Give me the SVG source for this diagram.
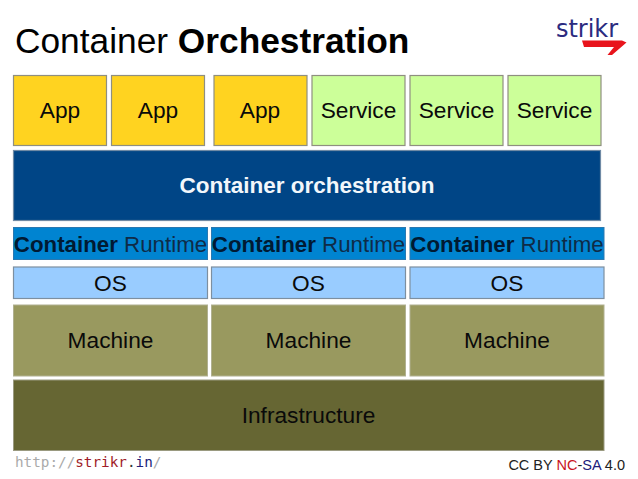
<svg xmlns="http://www.w3.org/2000/svg" width="638" height="479" viewBox="0 0 638 479">
<style>
text{font-family:"Liberation Sans",Arial,sans-serif;fill:#0a0a0a;text-anchor:middle}
.b{stroke:#8f8f80;stroke-width:1.2}
.app{fill:#ffd320}
.svc{fill:#ccff99}
.rt{fill:#0084d1;stroke:#2a78b0;stroke-width:1}
.os{fill:#99ccff;stroke:#7d8fa0;stroke-width:1.2}
.m{fill:#99995f;stroke:#b0b090;stroke-width:1}
.l{font-size:22.700px}
.r{font-size:22.300px}
.rt2{font-weight:bold;fill:#001a33}
.rn{fill:#0f2b47}
</style>
<rect width="638" height="479" fill="#fff"/>
<g id="title"><text x="15" y="53" style="font-size:35.300px;text-anchor:start;fill:#000">Container <tspan font-weight="bold">Orchestration</tspan></text></g>
<g id="logo">
<text x="587" y="37" style="font-family:'DejaVu Sans',sans-serif;font-size:24px;fill:#2b2b80">strikr</text>
<path d="M582 40.500 H622 L626.500 42.500 L612 55 H607.500 L614 47 H584 Z" fill="#e8141c"/>
</g>
<g id="app1"><rect class="b app" x="13.500" y="75.500" width="93" height="70"/><text class="l" x="60" y="118">App</text></g>
<g id="app2"><rect class="b app" x="111.500" y="75.500" width="93" height="70"/><text class="l" x="158" y="118">App</text></g>
<g id="app3"><rect class="b app" x="214" y="75.500" width="93" height="70"/><text class="l" x="260" y="118">App</text></g>
<g id="service1"><rect class="b svc" x="312" y="75.500" width="93" height="70"/><text class="l" x="358.500" y="118">Service</text></g>
<g id="service2"><rect class="b svc" x="410" y="75.500" width="93" height="70"/><text class="l" x="456.500" y="118">Service</text></g>
<g id="service3"><rect class="b svc" x="508" y="75.500" width="93" height="70"/><text class="l" x="554.500" y="118">Service</text></g>
<g id="orchestration"><rect x="13.500" y="150.500" width="587" height="70" fill="#004586" stroke="#6f8aa5" stroke-width="1.200"/><text x="307" y="193" style="font-size:22.500px;font-weight:bold;fill:#f2f7fb">Container orchestration</text></g>
<g id="runtime1"><rect class="rt" x="13.500" y="227.500" width="194" height="32"/><text class="r" x="110.500" y="252"><tspan class="rt2">Container</tspan> <tspan class="rn">Runtime</tspan></text></g>
<g id="runtime2"><rect class="rt" x="211.500" y="227.500" width="194" height="32"/><text class="r" x="308.500" y="252"><tspan class="rt2">Container</tspan> <tspan class="rn">Runtime</tspan></text></g>
<g id="runtime3"><rect class="rt" x="410" y="227.500" width="194" height="32"/><text class="r" x="507" y="252"><tspan class="rt2">Container</tspan> <tspan class="rn">Runtime</tspan></text></g>
<g id="os1"><rect class="os" x="13.500" y="267" width="194" height="31.500"/><text class="l" x="110.500" y="291">OS</text></g>
<g id="os2"><rect class="os" x="211.500" y="267" width="194" height="31.500"/><text class="l" x="308.500" y="291">OS</text></g>
<g id="os3"><rect class="os" x="410" y="267" width="194" height="31.500"/><text class="l" x="507" y="291">OS</text></g>
<g id="machine1"><rect class="m" x="13.500" y="305" width="194" height="71"/><text class="l" x="110.500" y="348">Machine</text></g>
<g id="machine2"><rect class="m" x="211.500" y="305" width="194" height="71"/><text class="l" x="308.500" y="348">Machine</text></g>
<g id="machine3"><rect class="m" x="410" y="305" width="194" height="71"/><text class="l" x="507" y="348">Machine</text></g>
<g id="infrastructure"><rect x="13.500" y="380" width="590.500" height="70.500" fill="#666633" stroke="#9a9a80" stroke-width="1"/><text class="l" x="308.500" y="423">Infrastructure</text></g>
<g id="url"><text x="15" y="467" style="font-family:'DejaVu Sans Mono',monospace;font-size:14.300px;text-anchor:start;fill:#999"><tspan fill="#aaa">http://</tspan><tspan fill="#a01c28">strikr</tspan><tspan fill="#333">.</tspan><tspan fill="#20207a">in</tspan><tspan fill="#aaa">/</tspan></text></g>
<g id="license"><text x="625" y="470" style="font-size:14.500px;text-anchor:end;fill:#222">CC BY <tspan fill="#c9141e">NC</tspan>-<tspan fill="#20207a">SA</tspan> 4.0</text></g>
</svg>
